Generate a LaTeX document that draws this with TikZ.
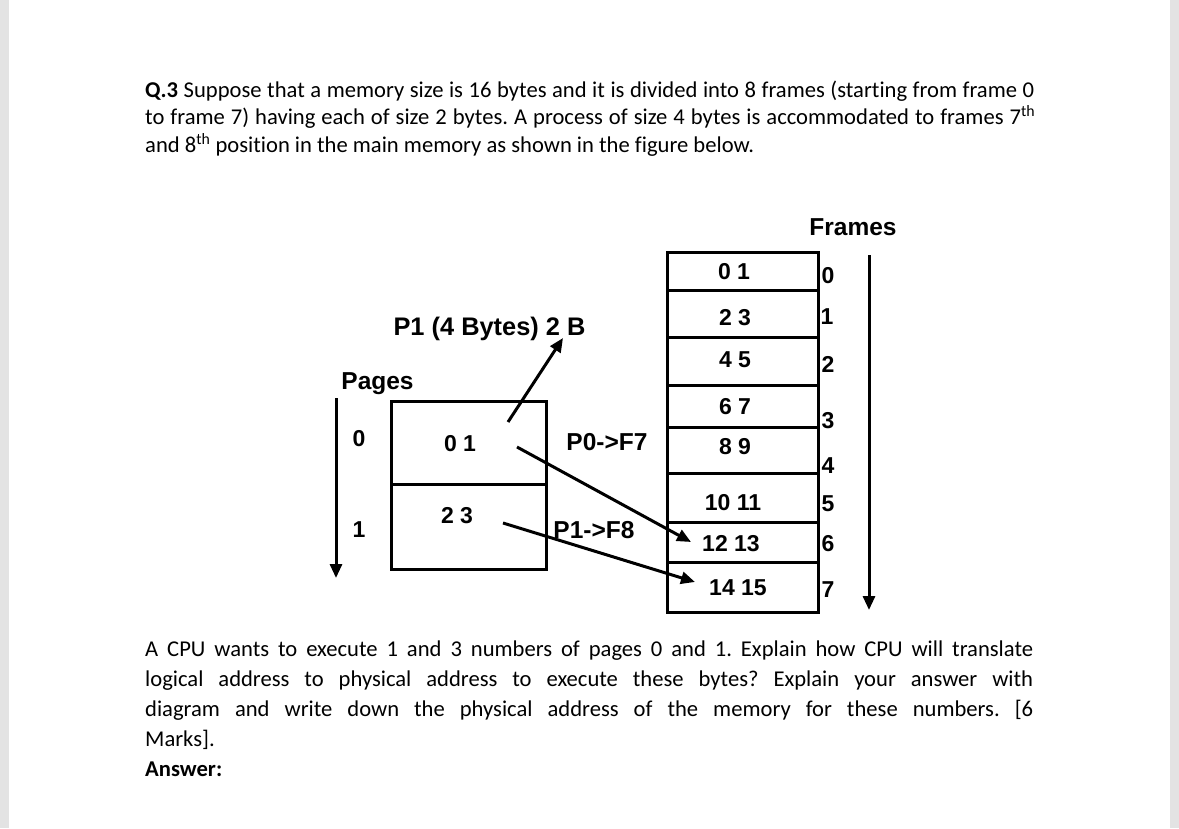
\documentclass[tikz,border=0pt]{standalone}
\usepackage{fontspec}
\setmainfont{Carlito}[Ligatures=NoCommon]
\newfontfamily\diagfont{Liberation Sans}
\usetikzlibrary{arrows.meta}
\frenchspacing
\begin{document}
\begin{tikzpicture}[x=1pt,y=-1pt,
  body/.style={anchor=base west, inner sep=0pt, font=\fontsize{22.6}{27}\selectfont},
  lbl/.style={inner sep=0pt, font=\diagfont\bfseries\fontsize{24.5}{28}\selectfont},
  wlbl/.style={inner sep=0pt, font=\diagfont\bfseries\fontsize{25.4}{29}\selectfont},
  num/.style={inner sep=0pt, font=\diagfont\bfseries\fontsize{23}{27}\selectfont},
  cell/.style={draw, line width=3pt, minimum width=151pt, inner sep=0pt},
  pcell/.style={draw, line width=3pt, minimum width=155pt, inner sep=0pt},
  conn/.style={line width=3pt, -{Triangle[length=14pt,width=12pt]}}]
\useasboundingbox (0,0) rectangle (1179,828);
\fill[white] (0,0) rectangle (1179,828);
\fill[black!11] (0,0) rectangle (9,828);
\fill[black!11] (1170,0) rectangle (1179,828);

% question text
\node[body] (t1) at (145,97) {\makebox[889pt][s]{\textbf{Q.3} Suppose that a memory size is 16 bytes and it is divided into 8 frames (starting from frame 0}};
\node[body] (t2) at (145,124.5) {\makebox[890pt][s]{to frame 7) having each of size 2 bytes. A process of size 4 bytes is accommodated to frames 7\textsuperscript{th}}};
\node[body] (t3) at (145,152) {and 8\textsuperscript{th} position in the main memory as shown in the figure below.};

\node[body] (b1) at (145,656.5) {\makebox[888pt][s]{A CPU wants to execute 1 and 3 numbers of pages 0 and 1. Explain how CPU will translate}};
\node[body] (b2) at (145,686.7) {\makebox[888pt][s]{logical address to physical address to execute these bytes? Explain your answer with}};
\node[body] (b3) at (145,716.7) {\makebox[888pt][s]{diagram and write down the physical address of the memory for these numbers. [6}};
\node[body] (b4) at (145,746.5) {Marks].};
\node[body] (b5) at (145,776.7) {\textbf{Answer:}};

% memory frames
\node[cell, minimum height=38pt] (m0) at (742.5,271) {};
\node[cell, minimum height=47pt] (m1) at (742.5,313.5) {};
\node[cell, minimum height=48pt] (m2) at (742.5,361) {};
\node[cell, minimum height=42pt] (m3) at (742.5,406) {};
\node[cell, minimum height=46pt] (m4) at (742.5,450) {};
\node[cell, minimum height=49pt] (m5) at (742.5,497.5) {};
\node[cell, minimum height=40pt] (m6) at (742.5,542) {};
\node[cell, minimum height=50pt] (m7) at (742.5,587) {};

\node[num] (v0) at (734,272) {0 1};
\node[num] (v1) at (735,318) {2 3};
\node[num] (v2) at (735,360) {4 5};
\node[num] (v3) at (735,407) {6 7};
\node[num] (v4) at (735,447) {8 9};
\node[num] (v5) at (733,503) {10 11};
\node[num] (v6) at (731,544) {12 13};
\node[num] (v7) at (738,588) {14 15};

\node[num] (f0) at (828,276) {0};
\node[num] (f1) at (827,317) {1};
\node[num] (f2) at (828,364) {2};
\node[num] (f3) at (828,421) {3};
\node[num] (f4) at (828,466) {4};
\node[num] (f5) at (828,504) {5};
\node[num] (f6) at (828,544) {6};
\node[num] (f7) at (828,590) {7};

\node[lbl] (frames) at (853,227) {Frames};
\coordinate (fa1) at (869,255);
\coordinate (fa2) at (869,610);
\draw[conn] (fa1) -- (fa2);

% pages
\node[pcell, minimum height=83pt] (p0) at (468.5,442.5) {};
\node[pcell, minimum height=85pt] (p1) at (468.5,526.5) {};
\node[num] (q0) at (460,444) {0 1};
\node[num] (q1) at (457,516) {2 3};
\node[num] (pl0) at (359,439) {0};
\node[num] (pl1) at (359,530) {1};
\node[lbl, anchor=base] (pages) at (377.5,389) {Pages};
\coordinate (pa1) at (336,398);
\coordinate (pa2) at (336,578);
\draw[conn] (pa1) -- (pa2);

\node[wlbl, anchor=base] (p1lbl) at (489.5,335) {P1 (4 Bytes) 2 B};
\node[lbl, anchor=base] (m07) at (607,450) {P0->F7};
\node[lbl, anchor=base] (m18) at (594,538) {P1->F8};

\coordinate (s0) at (508,422);
\coordinate (e0) at (563,338);
\draw[conn] (s0) -- (e0);
\coordinate (s1) at (517,447);
\coordinate (e1) at (691,542);
\draw[conn] (s1) -- (e1);
\coordinate (s2) at (503,523);
\coordinate (e2) at (695,582);
\draw[conn] (s2) -- (e2);
\end{tikzpicture}
\end{document}
